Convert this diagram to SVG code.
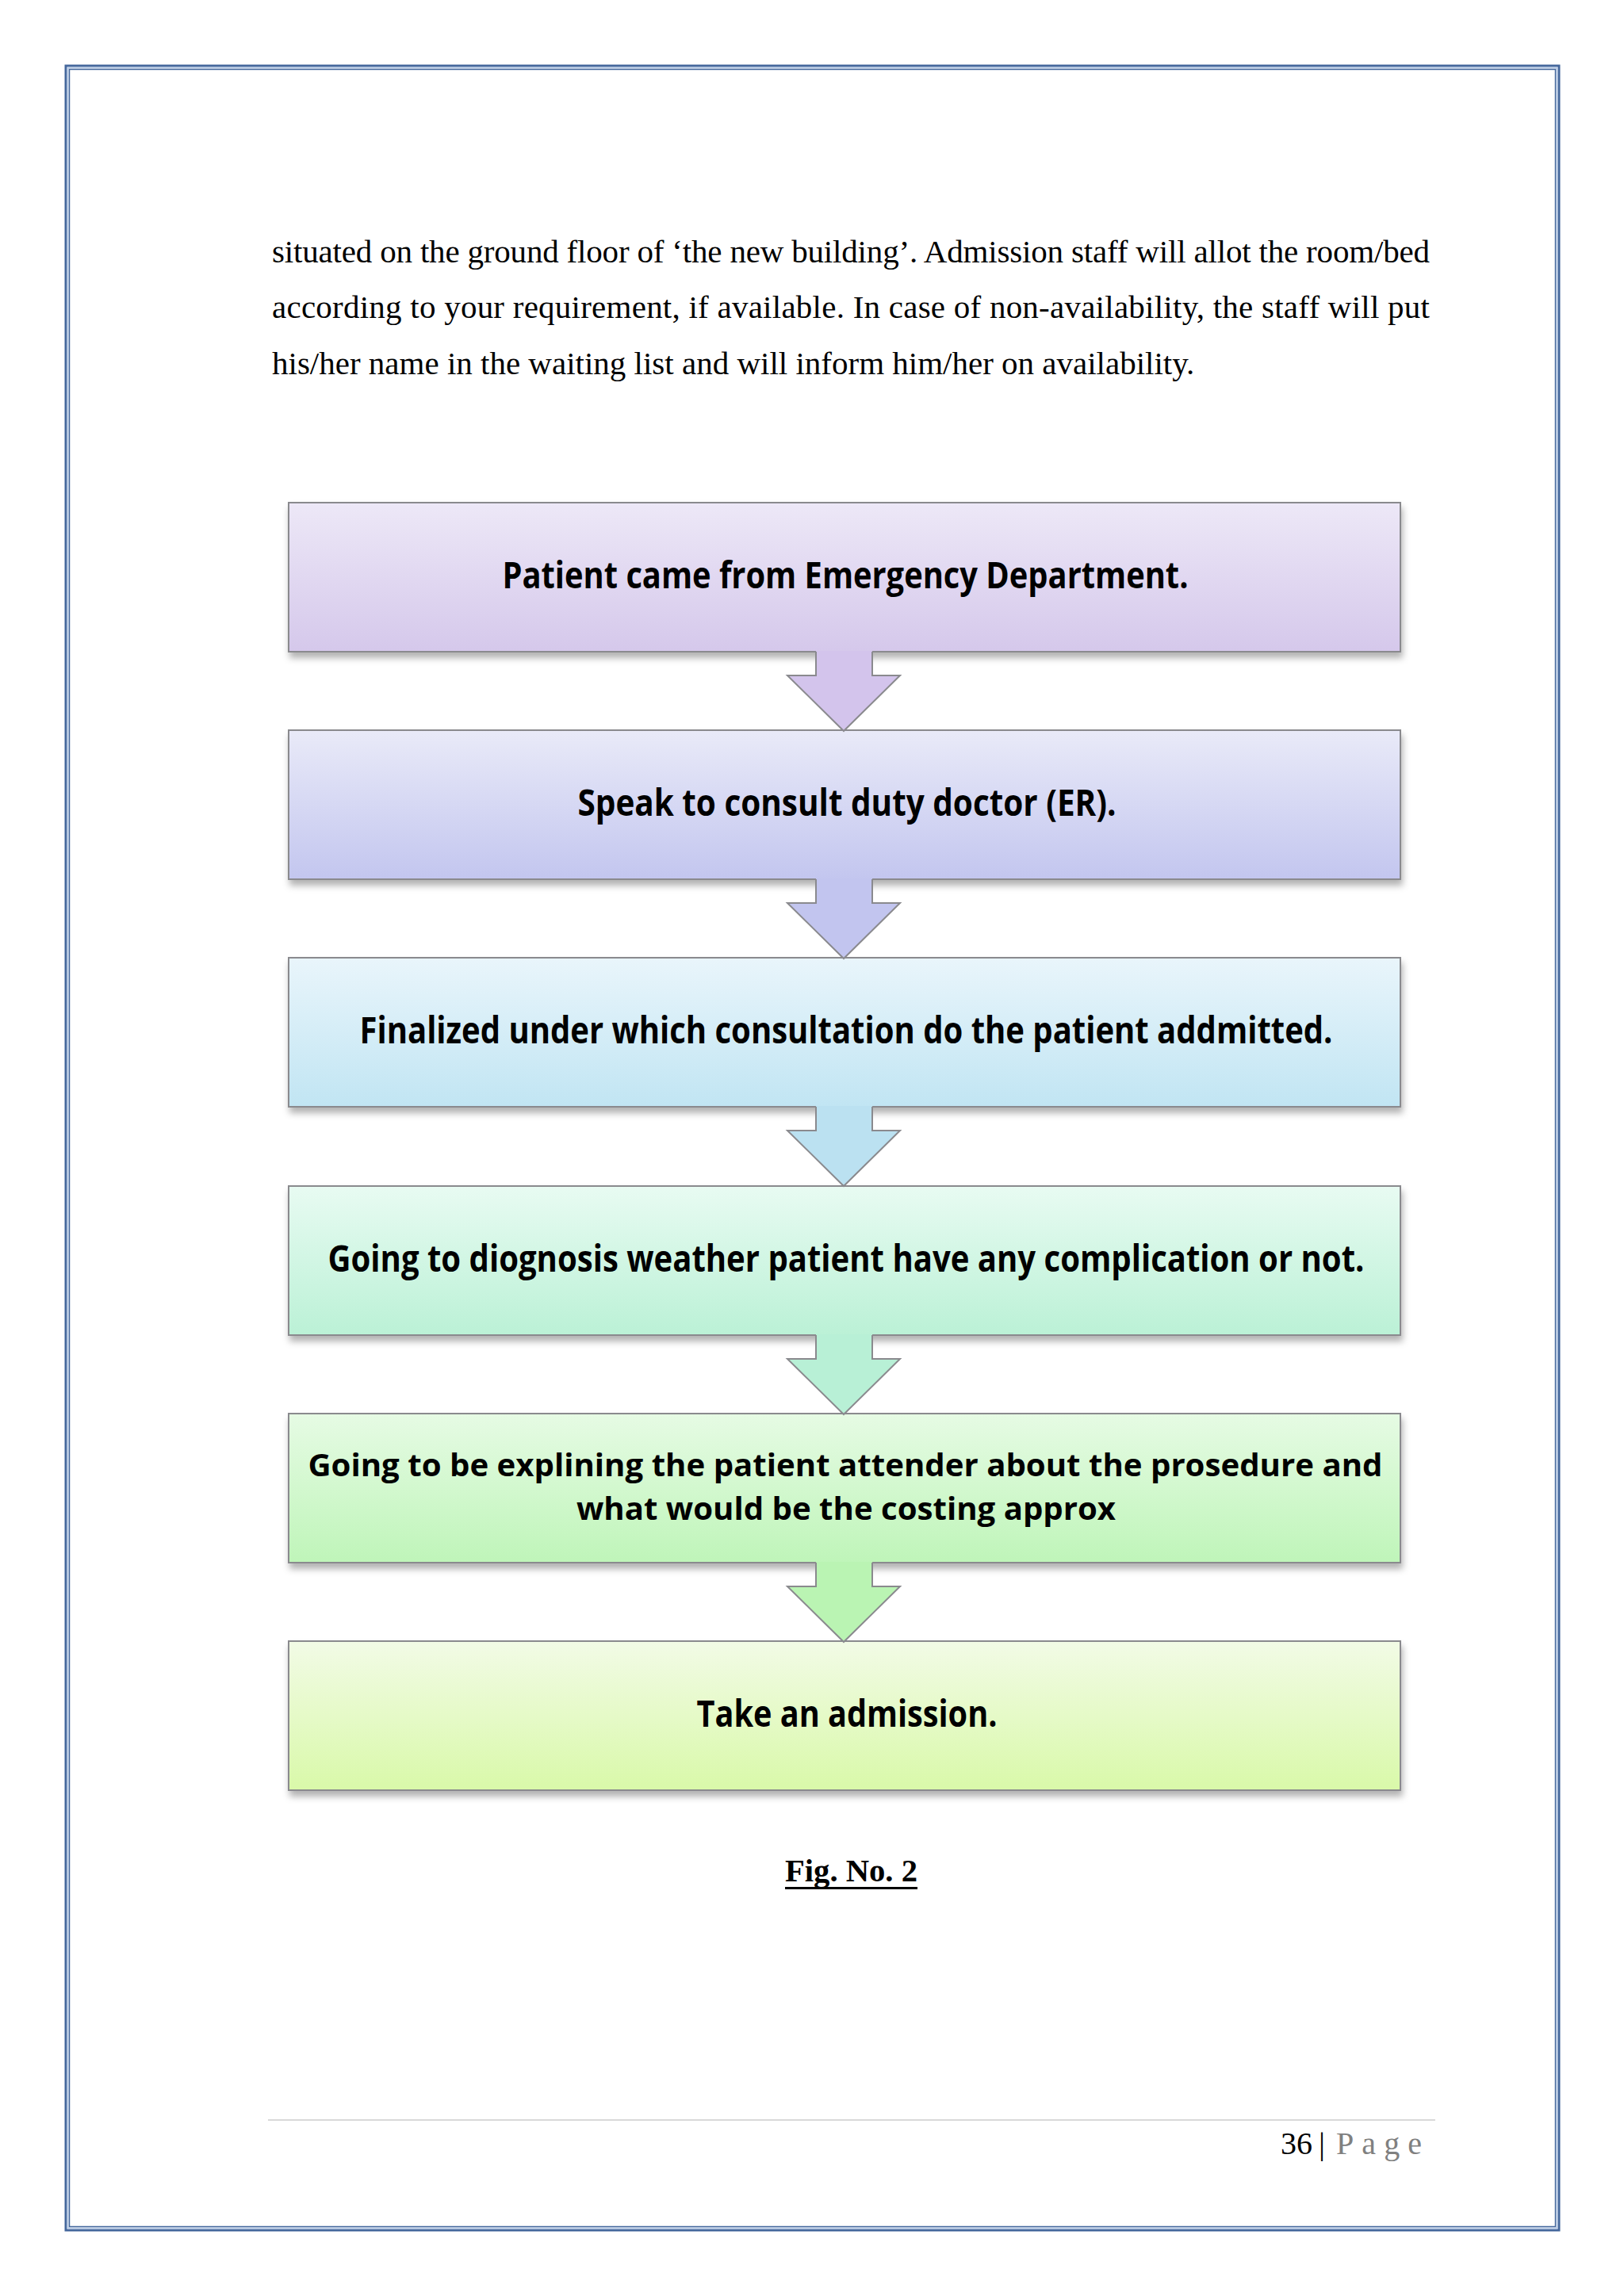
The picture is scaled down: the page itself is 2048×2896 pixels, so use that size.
<svg xmlns="http://www.w3.org/2000/svg" width="2048" height="2896" viewBox="0 0 2048 2896">
<defs>
<style>
.para{font-family:"Liberation Serif","Times New Roman",serif;font-size:41px;fill:#000}
.lbl{font-family:"Open Sans","Noto Sans",sans-serif;font-weight:700;font-size:46px;fill:#000;text-anchor:middle}
.lbl2{font-size:40px}
.box{stroke:#8a8a8e;stroke-width:2}
.arw{stroke:#8a8a8e;stroke-width:2;fill:none;stroke-linejoin:miter}
</style>
<filter id="sh" x="-5%" y="-10%" width="110%" height="130%">
<feDropShadow dx="2" dy="7" stdDeviation="4" flood-color="#000" flood-opacity="0.3"/>
</filter>
<linearGradient id="g1" x1="0" y1="0" x2="0" y2="1"><stop offset="0" stop-color="#EDE8F7"/><stop offset="1" stop-color="#D5C8EB"/></linearGradient>
<linearGradient id="g2" x1="0" y1="0" x2="0" y2="1"><stop offset="0" stop-color="#E9EAF8"/><stop offset="1" stop-color="#C3C6EF"/></linearGradient>
<linearGradient id="g3" x1="0" y1="0" x2="0" y2="1"><stop offset="0" stop-color="#E9F5FB"/><stop offset="1" stop-color="#C1E5F3"/></linearGradient>
<linearGradient id="g4" x1="0" y1="0" x2="0" y2="1"><stop offset="0" stop-color="#E8FBF2"/><stop offset="1" stop-color="#BBF1D6"/></linearGradient>
<linearGradient id="g5" x1="0" y1="0" x2="0" y2="1"><stop offset="0" stop-color="#E6FBE4"/><stop offset="1" stop-color="#BFF5B9"/></linearGradient>
<linearGradient id="g6" x1="0" y1="0" x2="0" y2="1"><stop offset="0" stop-color="#F2FBE6"/><stop offset="1" stop-color="#D9F9A9"/></linearGradient>
</defs>
<rect width="2048" height="2896" fill="#fff"/>
<g id="page-border" fill="none">
<rect x="83" y="83" width="1883" height="2730" stroke="#44679C" stroke-width="3"/>
<rect x="85.5" y="85.5" width="1878" height="2725" stroke="#B9CCE6" stroke-width="2"/>
<rect x="87.5" y="87.5" width="1874" height="2721" stroke="#44679C" stroke-width="1.5"/>
</g>
<g id="paragraph">
<text class="para" x="343" y="331" textLength="1460" lengthAdjust="spacing">situated on the ground floor of ‘the new building’. Admission staff will allot the room/bed</text>
<text class="para" x="343" y="401" textLength="1460" lengthAdjust="spacing">according to your requirement, if available. In case of non-availability, the staff will put</text>
<text class="para" x="343" y="472">his/her name in the waiting list and will inform him/her on availability.</text>
</g>
<g id="node1"><rect class="box" x="364" y="634" width="1402" height="188" fill="url(#g1)" filter="url(#sh)"/>
<text class="lbl" x="1066" y="742" textLength="865" lengthAdjust="spacingAndGlyphs">Patient came from Emergency Department.</text></g>
<g id="node2"><rect class="box" x="364" y="921" width="1402" height="188" fill="url(#g2)" filter="url(#sh)"/>
<text class="lbl" x="1068" y="1029" textLength="679" lengthAdjust="spacingAndGlyphs">Speak to consult duty doctor (ER).</text></g>
<g id="node3"><rect class="box" x="364" y="1208" width="1402" height="188" fill="url(#g3)" filter="url(#sh)"/>
<text class="lbl" x="1067" y="1316" textLength="1227" lengthAdjust="spacingAndGlyphs">Finalized under which consultation do the patient addmitted.</text></g>
<g id="node4"><rect class="box" x="364" y="1496" width="1402" height="188" fill="url(#g4)" filter="url(#sh)"/>
<text class="lbl" x="1067" y="1604" textLength="1307" lengthAdjust="spacingAndGlyphs">Going to diognosis weather patient have any complication or not.</text></g>
<g id="node5"><rect class="box" x="364" y="1783" width="1402" height="188" fill="url(#g5)" filter="url(#sh)"/>
<text class="lbl lbl2" x="1066" y="1862" textLength="1355" lengthAdjust="spacingAndGlyphs">Going to be explining the patient attender about the prosedure and</text>
<text class="lbl lbl2" x="1067" y="1917" textLength="680" lengthAdjust="spacingAndGlyphs">what would be the costing approx</text></g>
<g id="node6"><rect class="box" x="364" y="2070" width="1402" height="188" fill="url(#g6)" filter="url(#sh)"/>
<text class="lbl" x="1068" y="2178" textLength="379" lengthAdjust="spacingAndGlyphs">Take an admission.</text></g>
<g id="connectors">
<g transform="translate(0,822)">
<polygon points="1029,-1 1100,-1 1100,30 1135,30 1064,100 993,30 1029,30" fill="#D3C4EC"/>
<path class="arw" d="M1029,0 V30 H993 L1064,100 L1135,30 H1100 V0"/></g>
<g transform="translate(0,1109)">
<polygon points="1029,-1 1100,-1 1100,30 1135,30 1064,100 993,30 1029,30" fill="#C2C5EF"/>
<path class="arw" d="M1029,0 V30 H993 L1064,100 L1135,30 H1100 V0"/></g>
<g transform="translate(0,1396)">
<polygon points="1029,-1 1100,-1 1100,30 1135,30 1064,100 993,30 1029,30" fill="#BBE1F1"/>
<path class="arw" d="M1029,0 V30 H993 L1064,100 L1135,30 H1100 V0"/></g>
<g transform="translate(0,1684)">
<polygon points="1029,-1 1100,-1 1100,30 1135,30 1064,100 993,30 1029,30" fill="#B8F0D6"/>
<path class="arw" d="M1029,0 V30 H993 L1064,100 L1135,30 H1100 V0"/></g>
<g transform="translate(0,1971)">
<polygon points="1029,-1 1100,-1 1100,30 1135,30 1064,100 993,30 1029,30" fill="#BAF4B3"/>
<path class="arw" d="M1029,0 V30 H993 L1064,100 L1135,30 H1100 V0"/></g>
</g>
<g id="caption">
<text x="990" y="2373" font-family="Liberation Serif,Times New Roman,serif" font-weight="700" font-size="40" textLength="167" lengthAdjust="spacingAndGlyphs">Fig. No. 2</text>
<line x1="990" y1="2381.5" x2="1157" y2="2381.5" stroke="#000" stroke-width="3"/>
</g>
<g id="footer">
<line x1="338" y1="2674" x2="1810" y2="2674" stroke="#d9d9d9" stroke-width="2"/>
<text x="1615" y="2717" font-family="Liberation Serif,Times New Roman,serif" font-size="40">36</text>
<text x="1663" y="2717" font-family="Liberation Serif,Times New Roman,serif" font-size="40">|</text>
<text x="1685" y="2717" font-family="Liberation Serif,Times New Roman,serif" font-size="40" fill="#808080" textLength="108" lengthAdjust="spacing">Page</text>
</g>
</svg>
